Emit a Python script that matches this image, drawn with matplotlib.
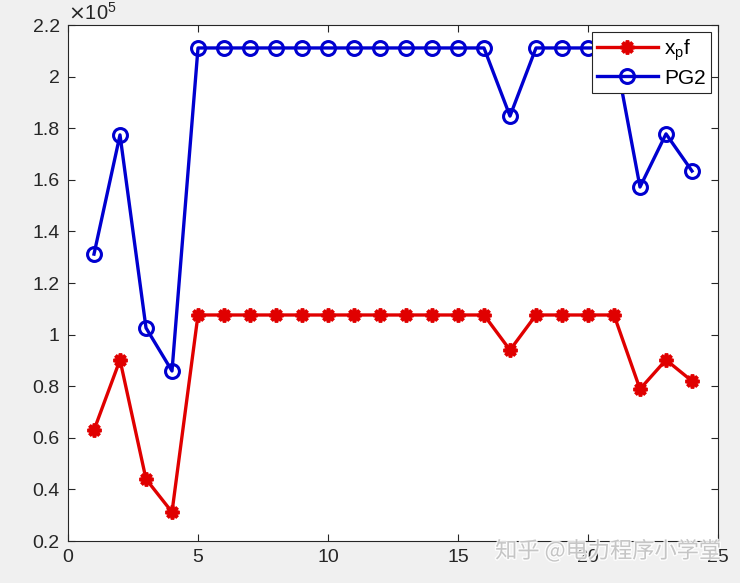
import matplotlib.pyplot as plt
import matplotlib.patheffects as pe
from matplotlib.ticker import FuncFormatter

# values
x = list(range(1, 25))
xpf = [0.630e5, 0.902e5, 0.440e5, 0.312e5] + [1.076e5] * 12 + [0.940e5] + [1.076e5] * 4 + [0.789e5, 0.902e5, 0.820e5]
pg2 = [1.312e5, 1.774e5, 1.026e5, 0.859e5] + [2.111e5] * 12 + [1.847e5] + [2.111e5] * 4 + [1.572e5, 1.778e5, 1.634e5]

xticks = [0, 5, 10, 15, 20, 25]
yticks = [0.2e5, 0.4e5, 0.6e5, 0.8e5, 1.0e5, 1.2e5, 1.4e5, 1.6e5, 1.8e5, 2.0e5, 2.2e5]

plt.rcParams['font.family'] = ['Liberation Sans', 'DejaVu Sans']

fig = plt.figure(figsize=(7.4, 5.83), dpi=100, facecolor='#f0f0f0')
ax = fig.add_axes([68 / 740, 42 / 583, 650 / 740, 516 / 583])

ax.plot(x, xpf, color='#e00000', lw=2.4, marker=(8, 2, 0), ms=10, mew=2.6, label='x$_{\\mathregular{p}}$f')
ax.plot(x, pg2, color='#0000d0', lw=2.4, marker='o', ms=10, mfc='none', mew=2.2, label='PG2')

ax.set_xlim(0, 25)
ax.set_ylim(0.2e5, 2.2e5)
ax.set_xticks(xticks)
ax.set_yticks(yticks)
ax.yaxis.set_major_formatter(FuncFormatter(lambda v, p: ('%.1f' % (v / 1e5)).rstrip('0').rstrip('.')))
ax.tick_params(direction='in', top=True, right=True, length=5, width=0.8,
               labelsize=14, colors='#262626', pad=6)
for s in ax.spines.values():
    s.set_color('#262626')
    s.set_linewidth(0.8)

ax.text(0.0, 1.003, '$\\times$10$^{\\mathregular{5}}$', transform=ax.transAxes,
        fontsize=14.5, color='#262626', ha='left', va='bottom')

leg = ax.legend(loc='upper right', fontsize=15, fancybox=False, framealpha=1,
                edgecolor='#262626', handlelength=2.9, borderpad=0.25,
                labelspacing=0.25, borderaxespad=0.35, handletextpad=0.3)
leg.get_frame().set_linewidth(0.8)

# watermark
fig.text(0.822, 0.055, '知乎 @电力程序小学堂', fontsize=16, color='#bdbdbd', alpha=0.85,
         family=['Noto Sans CJK SC', 'DejaVu Sans'], ha='center', va='center',
         path_effects=[pe.withStroke(linewidth=2, foreground='white', alpha=0.85)])

fig.savefig('out.png', dpi=100, facecolor=fig.get_facecolor())
